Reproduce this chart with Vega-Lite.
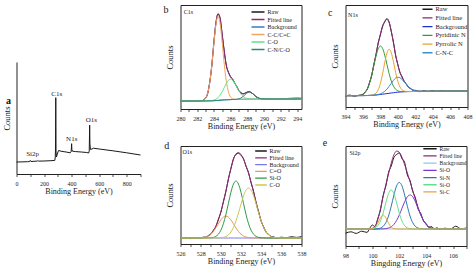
{
"$schema":"https://vega.github.io/schema/vega-lite/v6.json",
"padding":{"left":2.5,"top":4,"right":0,"bottom":0},
"background":"white",
"config":{"font":"Liberation Serif","view":{"stroke":"#222","strokeWidth":1},
 "axis":{"grid":false,"domain":false,"labelFont":"Liberation Serif","titleFont":"Liberation Serif","labelColor":"#222","titleColor":"#222","tickColor":"#222","tickWidth":0.8,"titleFontWeight":"normal","labelOverlap":false,"labelFlush":false},
 "legend":{"labelFont":"Liberation Serif","labelColor":"#222","title":null,"symbolType":"stroke","symbolStrokeWidth":1.3,"padding":0,"labelOffset":2,"orient":"top-right"}},
"datasets":{
"a":[{"x":0,"v":12.0},{"x":40,"v":12.1},{"x":80,"v":12.3},{"x":95,"v":12.4},{"x":100,"v":13.6},{"x":105,"v":12.5},{"x":150,"v":12.9},{"x":155,"v":13.4},{"x":160,"v":12.9},{"x":200,"v":13.0},{"x":250,"v":13.3},{"x":278,"v":13.6},{"x":281,"v":16},{"x":283,"v":24},{"x":285,"v":76.3},{"x":287,"v":22},{"x":290,"v":17},{"x":296,"v":20},{"x":305,"v":23.5},{"x":330,"v":22.6},{"x":360,"v":22.0},{"x":390,"v":21.2},{"x":396,"v":22},{"x":398,"v":25},{"x":400,"v":30.3},{"x":402,"v":24.5},{"x":406,"v":22.8},{"x":430,"v":22.4},{"x":470,"v":22.0},{"x":510,"v":21.5},{"x":524,"v":21.0},{"x":528,"v":23},{"x":531,"v":49},{"x":533,"v":30},{"x":537,"v":24.5},{"x":548,"v":25.0},{"x":558,"v":25.8},{"x":600,"v":25.0},{"x":700,"v":23.2},{"x":800,"v":21.2},{"x":900,"v":19.0}],
"b":[
{"x":280,"Raw":8.0,"Fitted line":8.0,"Background":8.0,"C-C/C=C":8.0,"C-O":8.0,"C-N/C-O":8.0},
{"x":281,"Raw":7.8,"Fitted line":8.0,"Background":8.0,"C-C/C=C":8.0,"C-O":8.0,"C-N/C-O":8.0},
{"x":282,"Raw":8.2,"Fitted line":8.0,"Background":8.0,"C-C/C=C":8.0,"C-O":8.0,"C-N/C-O":8.0},
{"x":282.5,"Raw":8.3,"Fitted line":8.2,"Background":8.0,"C-C/C=C":8.2,"C-O":8.0,"C-N/C-O":8.0},
{"x":283,"Raw":10.9,"Fitted line":10.65,"Background":8.05,"C-C/C=C":10.65,"C-O":8.05,"C-N/C-O":8.05},
{"x":283.25,"Raw":15.2,"Fitted line":15.7,"Background":8.1,"C-C/C=C":15.7,"C-O":8.1,"C-N/C-O":8.1},
{"x":283.5,"Raw":26.8,"Fitted line":26.23,"Background":8.15,"C-C/C=C":26.15,"C-O":8.23,"C-N/C-O":8.15},
{"x":283.75,"Raw":43.0,"Fitted line":43.73,"Background":8.2,"C-C/C=C":43.5,"C-O":8.43,"C-N/C-O":8.2},
{"x":284,"Raw":66.8,"Fitted line":66.09,"Background":8.3,"C-C/C=C":65.5,"C-O":8.89,"C-N/C-O":8.3},
{"x":284.25,"Raw":86.5,"Fitted line":86.1,"Background":8.45,"C-C/C=C":84.75,"C-O":9.8,"C-N/C-O":8.45},
{"x":284.5,"Raw":95.0,"Fitted line":95.4,"Background":8.6,"C-C/C=C":92.6,"C-O":11.4,"C-N/C-O":8.6},
{"x":284.75,"Raw":90.8,"Fitted line":90.2,"Background":8.8,"C-C/C=C":85.1,"C-O":13.9,"C-N/C-O":8.8},
{"x":285,"Raw":74.0,"Fitted line":74.6,"Background":9.0,"C-C/C=C":66.2,"C-O":17.4,"C-N/C-O":9.0},
{"x":285.25,"Raw":57.5,"Fitted line":56.8,"Background":9.1,"C-C/C=C":44.4,"C-O":21.5,"C-N/C-O":9.1},
{"x":285.5,"Raw":43.0,"Fitted line":43.6,"Background":9.2,"C-C/C=C":27.2,"C-O":25.6,"C-N/C-O":9.2},
{"x":285.75,"Raw":36.8,"Fitted line":36.3,"Background":9.3,"C-C/C=C":16.9,"C-O":28.7,"C-N/C-O":9.3},
{"x":286,"Raw":32.0,"Fitted line":32.5,"Background":9.4,"C-C/C=C":12.0,"C-O":29.9,"C-N/C-O":9.4},
{"x":286.25,"Raw":29.9,"Fitted line":29.65,"Background":9.5,"C-C/C=C":10.25,"C-O":28.9,"C-N/C-O":9.51},
{"x":286.5,"Raw":25.6,"Fitted line":26.2,"Background":9.55,"C-C/C=C":9.73,"C-O":25.95,"C-N/C-O":9.59},
{"x":286.75,"Raw":22.6,"Fitted line":22.2,"Background":9.6,"C-C/C=C":9.64,"C-O":22.0,"C-N/C-O":9.77},
{"x":287,"Raw":18.1,"Fitted line":18.6,"Background":9.65,"C-C/C=C":9.65,"C-O":18.05,"C-N/C-O":10.18},
{"x":287.25,"Raw":16.4,"Fitted line":16.1,"Background":9.7,"C-C/C=C":9.7,"C-O":14.8,"C-N/C-O":11.0},
{"x":287.5,"Raw":15.0,"Fitted line":15.35,"Background":9.75,"C-C/C=C":9.75,"C-O":12.55,"C-N/C-O":12.55},
{"x":287.75,"Raw":16.0,"Fitted line":15.75,"Background":9.8,"C-C/C=C":9.8,"C-O":11.15,"C-N/C-O":14.4},
{"x":288,"Raw":17.0,"Fitted line":16.74,"Background":9.85,"C-C/C=C":9.85,"C-O":10.44,"C-N/C-O":16.15},
{"x":288.25,"Raw":17.4,"Fitted line":17.13,"Background":9.9,"C-C/C=C":9.9,"C-O":10.13,"C-N/C-O":16.9},
{"x":288.5,"Raw":16.0,"Fitted line":16.33,"Background":9.95,"C-C/C=C":9.95,"C-O":10.03,"C-N/C-O":16.25},
{"x":288.75,"Raw":14.9,"Fitted line":14.62,"Background":10.0,"C-C/C=C":10.0,"C-O":10.02,"C-N/C-O":14.6},
{"x":289,"Raw":12.5,"Fitted line":12.8,"Background":10.0,"C-C/C=C":10.0,"C-O":10.0,"C-N/C-O":12.8},
{"x":289.25,"Raw":11.5,"Fitted line":11.3,"Background":10.0,"C-C/C=C":10.0,"C-O":10.0,"C-N/C-O":11.3},
{"x":289.5,"Raw":10.2,"Fitted line":10.53,"Background":10.0,"C-C/C=C":10.0,"C-O":10.0,"C-N/C-O":10.53},
{"x":290,"Raw":10.3,"Fitted line":10.04,"Background":10.0,"C-C/C=C":10.0,"C-O":10.0,"C-N/C-O":10.04},
{"x":291,"Raw":9.8,"Fitted line":10.0,"Background":10.0,"C-C/C=C":10.0,"C-O":10.0,"C-N/C-O":10.0},
{"x":292,"Raw":10.1,"Fitted line":10.0,"Background":10.0,"C-C/C=C":10.0,"C-O":10.0,"C-N/C-O":10.0},
{"x":293,"Raw":10.6,"Fitted line":10.0,"Background":10.0,"C-C/C=C":10.0,"C-O":10.0,"C-N/C-O":10.0},
{"x":294,"Raw":10.9,"Fitted line":10.0,"Background":10.0,"C-C/C=C":10.0,"C-O":10.0,"C-N/C-O":10.0},
{"x":294.5,"Raw":10.7,"Fitted line":10.0,"Background":10.0,"C-C/C=C":10.0,"C-O":10.0,"C-N/C-O":10.0}],
"c":[
{"x":394,"Raw":11.0,"Fitted line":11.3,"Background":11.3,"Pyridinic N":11.3,"Pyrrolic N":11.3,"C-N-C":11.3},
{"x":394.5,"Raw":11.9,"Fitted line":11.3,"Background":11.3,"Pyridinic N":11.3,"Pyrrolic N":11.3,"C-N-C":11.3},
{"x":395,"Raw":10.8,"Fitted line":11.3,"Background":11.3,"Pyridinic N":11.3,"Pyrrolic N":11.3,"C-N-C":11.3},
{"x":395.5,"Raw":11.6,"Fitted line":11.54,"Background":11.35,"Pyridinic N":11.54,"Pyrrolic N":11.35,"C-N-C":11.35},
{"x":396,"Raw":12.3,"Fitted line":12.8,"Background":11.4,"Pyridinic N":12.8,"Pyrrolic N":11.4,"C-N-C":11.4},
{"x":396.25,"Raw":15.2,"Fitted line":14.65,"Background":11.45,"Pyridinic N":14.65,"Pyrrolic N":11.45,"C-N-C":11.45},
{"x":396.5,"Raw":17.6,"Fitted line":18.1,"Background":11.5,"Pyridinic N":18.1,"Pyrrolic N":11.5,"C-N-C":11.5},
{"x":396.75,"Raw":24.3,"Fitted line":23.74,"Background":11.6,"Pyridinic N":23.7,"Pyrrolic N":11.64,"C-N-C":11.6},
{"x":397,"Raw":31.2,"Fitted line":31.77,"Background":11.7,"Pyridinic N":31.6,"Pyrrolic N":11.87,"C-N-C":11.7},
{"x":397.25,"Raw":42.5,"Fitted line":41.92,"Background":11.85,"Pyridinic N":41.25,"Pyrrolic N":12.48,"C-N-C":11.89},
{"x":397.5,"Raw":52.2,"Fitted line":52.81,"Background":12.0,"Pyridinic N":50.8,"Pyrrolic N":13.9,"C-N-C":12.11},
{"x":397.75,"Raw":64.0,"Fitted line":63.44,"Background":12.25,"Pyridinic N":58.15,"Pyrrolic N":17.25,"C-N-C":12.54},
{"x":398,"Raw":72.0,"Fitted line":72.66,"Background":12.5,"Pyridinic N":61.0,"Pyrrolic N":23.5,"C-N-C":13.16},
{"x":398.25,"Raw":80.9,"Fitted line":80.2,"Background":12.8,"Pyridinic N":58.7,"Pyrrolic N":32.9,"C-N-C":14.2},
{"x":398.5,"Raw":85.0,"Fitted line":85.6,"Background":13.1,"Pyridinic N":51.9,"Pyrrolic N":44.2,"C-N-C":15.7},
{"x":398.75,"Raw":88.4,"Fitted line":87.5,"Background":13.4,"Pyridinic N":42.8,"Pyrrolic N":53.7,"C-N-C":17.8},
{"x":399,"Raw":85.2,"Fitted line":84.5,"Background":13.7,"Pyridinic N":33.6,"Pyrrolic N":57.7,"C-N-C":20.6},
{"x":399.25,"Raw":75.4,"Fitted line":76.1,"Background":14.0,"Pyridinic N":26.1,"Pyrrolic N":54.3,"C-N-C":23.7},
{"x":399.5,"Raw":64.9,"Fitted line":64.3,"Background":14.3,"Pyridinic N":20.9,"Pyrrolic N":45.4,"C-N-C":26.6},
{"x":399.75,"Raw":51.6,"Fitted line":52.15,"Background":14.55,"Pyridinic N":17.75,"Pyrrolic N":34.65,"C-N-C":28.85},
{"x":400,"Raw":42.8,"Fitted line":42.2,"Background":14.8,"Pyridinic N":16.2,"Pyrrolic N":25.8,"C-N-C":29.8},
{"x":400.25,"Raw":34.3,"Fitted line":34.84,"Background":15.0,"Pyridinic N":15.54,"Pyrrolic N":20.0,"C-N-C":29.3},
{"x":400.5,"Raw":30.1,"Fitted line":29.59,"Background":15.2,"Pyridinic N":15.39,"Pyrrolic N":17.1,"C-N-C":27.5},
{"x":400.75,"Raw":25.2,"Fitted line":25.69,"Background":15.3,"Pyridinic N":15.36,"Pyrrolic N":15.93,"C-N-C":25.0},
{"x":401,"Raw":22.9,"Fitted line":22.47,"Background":15.4,"Pyridinic N":15.4,"Pyrrolic N":15.57,"C-N-C":22.3},
{"x":401.25,"Raw":19.5,"Fitted line":19.89,"Background":15.45,"Pyridinic N":15.45,"Pyrrolic N":15.49,"C-N-C":19.85},
{"x":401.5,"Raw":18.5,"Fitted line":18.1,"Background":15.5,"Pyridinic N":15.5,"Pyrrolic N":15.5,"C-N-C":18.1},
{"x":401.75,"Raw":16.6,"Fitted line":16.95,"Background":15.55,"Pyridinic N":15.55,"Pyrrolic N":15.55,"C-N-C":16.95},
{"x":402,"Raw":16.7,"Fitted line":16.26,"Background":15.6,"Pyridinic N":15.6,"Pyrrolic N":15.6,"C-N-C":16.26},
{"x":402.5,"Raw":15.3,"Fitted line":15.76,"Background":15.65,"Pyridinic N":15.65,"Pyrrolic N":15.65,"C-N-C":15.76},
{"x":403,"Raw":16.2,"Fitted line":15.7,"Background":15.7,"Pyridinic N":15.7,"Pyrrolic N":15.7,"C-N-C":15.7},
{"x":403.5,"Raw":15.4,"Fitted line":15.75,"Background":15.75,"Pyridinic N":15.75,"Pyrrolic N":15.75,"C-N-C":15.75},
{"x":404,"Raw":16.3,"Fitted line":15.8,"Background":15.8,"Pyridinic N":15.8,"Pyrrolic N":15.8,"C-N-C":15.8},
{"x":404.5,"Raw":15.5,"Fitted line":15.85,"Background":15.85,"Pyridinic N":15.85,"Pyrrolic N":15.85,"C-N-C":15.85},
{"x":405,"Raw":16.4,"Fitted line":15.9,"Background":15.9,"Pyridinic N":15.9,"Pyrrolic N":15.9,"C-N-C":15.9},
{"x":405.5,"Raw":15.6,"Fitted line":15.9,"Background":15.9,"Pyridinic N":15.9,"Pyrrolic N":15.9,"C-N-C":15.9},
{"x":406,"Raw":16.2,"Fitted line":15.95,"Background":15.95,"Pyridinic N":15.95,"Pyrrolic N":15.95,"C-N-C":15.95},
{"x":406.5,"Raw":15.7,"Fitted line":15.95,"Background":15.95,"Pyridinic N":15.95,"Pyrrolic N":15.95,"C-N-C":15.95},
{"x":407,"Raw":16.4,"Fitted line":16.0,"Background":16.0,"Pyridinic N":16.0,"Pyrrolic N":16.0,"C-N-C":16.0},
{"x":407.5,"Raw":15.8,"Fitted line":16.0,"Background":16.0,"Pyridinic N":16.0,"Pyrrolic N":16.0,"C-N-C":16.0},
{"x":408,"Raw":16.2,"Fitted line":16.0,"Background":16.0,"Pyridinic N":16.0,"Pyrrolic N":16.0,"C-N-C":16.0}],
"d":[
{"x":526,"Raw":5.5,"Fitted line":6.0,"Background":6.0,"C=O":6.0,"Si-O":6.0,"C-O":6.0},
{"x":526.5,"Raw":6.3,"Fitted line":6.0,"Background":6.0,"C=O":6.0,"Si-O":6.0,"C-O":6.0},
{"x":527,"Raw":5.4,"Fitted line":6.0,"Background":6.0,"C=O":6.0,"Si-O":6.0,"C-O":6.0},
{"x":527.5,"Raw":6.1,"Fitted line":6.0,"Background":6.0,"C=O":6.0,"Si-O":6.0,"C-O":6.0},
{"x":528,"Raw":5.8,"Fitted line":6.17,"Background":6.0,"C=O":6.17,"Si-O":6.0,"C-O":6.0},
{"x":528.25,"Raw":6.9,"Fitted line":6.42,"Background":6.0,"C=O":6.42,"Si-O":6.0,"C-O":6.0},
{"x":528.5,"Raw":6.6,"Fitted line":6.97,"Background":6.0,"C=O":6.97,"Si-O":6.0,"C-O":6.0},
{"x":528.75,"Raw":8.5,"Fitted line":8.07,"Background":6.0,"C=O":8.0,"Si-O":6.07,"C-O":6.0},
{"x":529,"Raw":9.7,"Fitted line":10.02,"Background":6.0,"C=O":9.8,"Si-O":6.22,"C-O":6.0},
{"x":529.25,"Raw":13.6,"Fitted line":13.13,"Background":6.0,"C=O":12.5,"Si-O":6.63,"C-O":6.0},
{"x":529.5,"Raw":17.2,"Fitted line":17.73,"Background":6.0,"C=O":16.1,"Si-O":7.6,"C-O":6.03},
{"x":529.75,"Raw":24.5,"Fitted line":24.0,"Background":6.0,"C=O":20.2,"Si-O":9.7,"C-O":6.1},
{"x":530,"Raw":31.6,"Fitted line":32.07,"Background":6.0,"C=O":24.1,"Si-O":13.7,"C-O":6.27},
{"x":530.25,"Raw":42.3,"Fitted line":41.76,"Background":6.0,"C=O":26.9,"Si-O":20.2,"C-O":6.66},
{"x":530.5,"Raw":52.4,"Fitted line":52.9,"Background":6.0,"C=O":28.0,"Si-O":29.4,"C-O":7.5},
{"x":530.75,"Raw":65.1,"Fitted line":64.6,"Background":6.0,"C=O":26.9,"Si-O":40.6,"C-O":9.1},
{"x":531,"Raw":75.2,"Fitted line":75.8,"Background":6.0,"C=O":24.1,"Si-O":51.7,"C-O":12.0},
{"x":531.25,"Raw":85.2,"Fitted line":84.6,"Background":6.0,"C=O":20.2,"Si-O":59.9,"C-O":16.5},
{"x":531.5,"Raw":89.5,"Fitted line":90.1,"Background":6.0,"C=O":16.1,"Si-O":63.0,"C-O":23.0},
{"x":531.75,"Raw":90.8,"Fitted line":91.4,"Background":6.0,"C=O":12.5,"Si-O":59.9,"C-O":31.0},
{"x":532,"Raw":88.6,"Fitted line":89.4,"Background":6.0,"C=O":9.8,"Si-O":51.7,"C-O":39.9},
{"x":532.25,"Raw":85.3,"Fitted line":84.7,"Background":6.0,"C=O":8.0,"Si-O":40.6,"C-O":48.1},
{"x":532.5,"Raw":77.6,"Fitted line":78.27,"Background":6.0,"C=O":6.97,"Si-O":29.4,"C-O":53.9},
{"x":532.75,"Raw":71.3,"Fitted line":70.62,"Background":6.0,"C=O":6.42,"Si-O":20.2,"C-O":56.0},
{"x":533,"Raw":61.2,"Fitted line":61.77,"Background":6.0,"C=O":6.17,"Si-O":13.7,"C-O":53.9},
{"x":533.25,"Raw":52.5,"Fitted line":51.86,"Background":6.0,"C=O":6.06,"Si-O":9.7,"C-O":48.1},
{"x":533.5,"Raw":41.0,"Fitted line":41.52,"Background":6.0,"C=O":6.02,"Si-O":7.6,"C-O":39.9},
{"x":533.75,"Raw":32.2,"Fitted line":31.63,"Background":6.0,"C=O":6.0,"Si-O":6.63,"C-O":31.0},
{"x":534,"Raw":22.7,"Fitted line":23.22,"Background":6.0,"C=O":6.0,"Si-O":6.22,"C-O":23.0},
{"x":534.25,"Raw":17.0,"Fitted line":16.57,"Background":6.0,"C=O":6.0,"Si-O":6.07,"C-O":16.5},
{"x":534.5,"Raw":11.6,"Fitted line":12.0,"Background":6.0,"C=O":6.0,"Si-O":6.0,"C-O":12.0},
{"x":534.75,"Raw":9.6,"Fitted line":9.1,"Background":6.0,"C=O":6.0,"Si-O":6.0,"C-O":9.1},
{"x":535,"Raw":7.2,"Fitted line":7.5,"Background":6.0,"C=O":6.0,"Si-O":6.0,"C-O":7.5},
{"x":535.25,"Raw":7.1,"Fitted line":6.66,"Background":6.0,"C=O":6.0,"Si-O":6.0,"C-O":6.66},
{"x":535.5,"Raw":6.0,"Fitted line":6.27,"Background":6.0,"C=O":6.0,"Si-O":6.0,"C-O":6.27},
{"x":536,"Raw":6.8,"Fitted line":6.03,"Background":6.0,"C=O":6.0,"Si-O":6.0,"C-O":6.03},
{"x":536.5,"Raw":6.2,"Fitted line":6.0,"Background":6.0,"C=O":6.0,"Si-O":6.0,"C-O":6.0},
{"x":537,"Raw":7.3,"Fitted line":6.0,"Background":6.0,"C=O":6.0,"Si-O":6.0,"C-O":6.0},
{"x":537.5,"Raw":6.6,"Fitted line":6.0,"Background":6.0,"C=O":6.0,"Si-O":6.0,"C-O":6.0},
{"x":538,"Raw":7.4,"Fitted line":6.0,"Background":6.0,"C=O":6.0,"Si-O":6.0,"C-O":6.0}],
"e":[
{"x":98.0,"Raw":12.8,"Fitted line":17,"Background":17,"Si-O":17,"Si-N":17,"Si-O ":17,"Si-C":17},
{"x":98.4,"Raw":14.2,"Fitted line":17,"Background":17,"Si-O":17,"Si-N":17,"Si-O ":17,"Si-C":17},
{"x":98.8,"Raw":12.6,"Fitted line":17,"Background":17,"Si-O":17,"Si-N":17,"Si-O ":17,"Si-C":17},
{"x":99.2,"Raw":14.8,"Fitted line":17,"Background":17,"Si-O":17,"Si-N":17,"Si-O ":17,"Si-C":17},
{"x":99.6,"Raw":13.6,"Fitted line":17,"Background":17,"Si-O":17,"Si-N":17,"Si-O ":17,"Si-C":17},
{"x":99.8,"Raw":17.5,"Fitted line":17.05,"Background":17,"Si-O":17,"Si-N":17,"Si-O ":17,"Si-C":17.05},
{"x":100.0,"Raw":21.0,"Fitted line":17.71,"Background":17,"Si-O":17,"Si-N":17,"Si-O ":17.31,"Si-C":17.4},
{"x":100.2,"Raw":19.2,"Fitted line":20.07,"Background":17,"Si-O":17,"Si-N":17.07,"Si-O ":18.1,"Si-C":18.9},
{"x":100.4,"Raw":27.5,"Fitted line":26.38,"Background":17,"Si-O":17,"Si-N":17.28,"Si-O ":20.3,"Si-C":22.8},
{"x":100.6,"Raw":36.0,"Fitted line":37.17,"Background":17,"Si-O":17.04,"Si-N":17.93,"Si-O ":25.0,"Si-C":28.2},
{"x":100.8,"Raw":50.5,"Fitted line":49.73,"Background":17,"Si-O":17.13,"Si-N":19.6,"Si-O ":33.0,"Si-C":31.0},
{"x":101.0,"Raw":60.0,"Fitted line":61.18,"Background":17,"Si-O":17.38,"Si-N":23.3,"Si-O ":43.3,"Si-C":28.2},
{"x":101.2,"Raw":73.5,"Fitted line":72.07,"Background":17,"Si-O":17.97,"Si-N":30.0,"Si-O ":52.3,"Si-C":22.8},
{"x":101.4,"Raw":80.0,"Fitted line":82.8,"Background":17,"Si-O":19.2,"Si-N":39.7,"Si-O ":56.0,"Si-C":18.9},
{"x":101.6,"Raw":88.5,"Fitted line":91.2,"Background":17,"Si-O":21.6,"Si-N":50.9,"Si-O ":52.3,"Si-C":17.4},
{"x":101.8,"Raw":91.5,"Fitted line":94.95,"Background":17,"Si-O":25.5,"Si-N":60.1,"Si-O ":43.3,"Si-C":17.05},
{"x":102.0,"Raw":93.0,"Fitted line":93.7,"Background":17,"Si-O":31.0,"Si-N":63.7,"Si-O ":33.0,"Si-C":17},
{"x":102.2,"Raw":87.5,"Fitted line":88.7,"Background":17,"Si-O":37.6,"Si-N":60.1,"Si-O ":25.0,"Si-C":17},
{"x":102.4,"Raw":83.5,"Fitted line":81.4,"Background":17,"Si-O":44.2,"Si-N":50.9,"Si-O ":20.3,"Si-C":17},
{"x":102.6,"Raw":71.0,"Fitted line":73.0,"Background":17,"Si-O":49.2,"Si-N":39.7,"Si-O ":18.1,"Si-C":17},
{"x":102.8,"Raw":65.5,"Fitted line":64.31,"Background":17,"Si-O":51.0,"Si-N":30.0,"Si-O ":17.31,"Si-C":17},
{"x":103.0,"Raw":54.5,"Fitted line":55.57,"Background":17,"Si-O":49.2,"Si-N":23.3,"Si-O ":17.07,"Si-C":17},
{"x":103.2,"Raw":48.0,"Fitted line":46.8,"Background":17,"Si-O":44.2,"Si-N":19.6,"Si-O ":17,"Si-C":17},
{"x":103.4,"Raw":37.0,"Fitted line":38.53,"Background":17,"Si-O":37.6,"Si-N":17.93,"Si-O ":17,"Si-C":17},
{"x":103.6,"Raw":32.5,"Fitted line":31.28,"Background":17,"Si-O":31.0,"Si-N":17.28,"Si-O ":17,"Si-C":17},
{"x":103.8,"Raw":25.0,"Fitted line":25.57,"Background":17,"Si-O":25.5,"Si-N":17.07,"Si-O ":17,"Si-C":17},
{"x":104.0,"Raw":22.5,"Fitted line":21.6,"Background":17,"Si-O":21.6,"Si-N":17,"Si-O ":17,"Si-C":17},
{"x":104.2,"Raw":18.5,"Fitted line":19.2,"Background":17,"Si-O":19.2,"Si-N":17,"Si-O ":17,"Si-C":17},
{"x":104.4,"Raw":19.5,"Fitted line":17.97,"Background":17,"Si-O":17.97,"Si-N":17,"Si-O ":17,"Si-C":17},
{"x":104.6,"Raw":17.0,"Fitted line":17.38,"Background":17,"Si-O":17.38,"Si-N":17,"Si-O ":17,"Si-C":17},
{"x":104.8,"Raw":18.2,"Fitted line":17.13,"Background":17,"Si-O":17.13,"Si-N":17,"Si-O ":17,"Si-C":17},
{"x":105.0,"Raw":16.6,"Fitted line":17.04,"Background":17,"Si-O":17.04,"Si-N":17,"Si-O ":17,"Si-C":17},
{"x":105.4,"Raw":17.8,"Fitted line":17,"Background":17,"Si-O":17,"Si-N":17,"Si-O ":17,"Si-C":17},
{"x":105.8,"Raw":16.9,"Fitted line":17,"Background":17,"Si-O":17,"Si-N":17,"Si-O ":17,"Si-C":17},
{"x":106.2,"Raw":19.8,"Fitted line":17,"Background":17,"Si-O":17,"Si-N":17,"Si-O ":17,"Si-C":17},
{"x":106.6,"Raw":17.2,"Fitted line":17,"Background":17,"Si-O":17,"Si-N":17,"Si-O ":17,"Si-C":17},
{"x":107.0,"Raw":18.0,"Fitted line":17,"Background":17,"Si-O":17,"Si-N":17,"Si-O ":17,"Si-C":17}]
},
"spacing":20,
"resolve":{"scale":{"x":"independent","y":"independent","color":"independent"},"axis":{"x":"independent","y":"independent"},"legend":{"color":"independent"}},
"hconcat":[
{"vconcat":[
  {"width":10,"height":57,"view":{"stroke":null},"data":{"values":[]},"mark":"point"},
  {"width":124,"height":112,"view":{"stroke":null},
   "layer":[
    {"data":{"name":"a"},"mark":{"type":"line","strokeWidth":1,"color":"#1a1a1a","interpolate":"linear"},
     "encoding":{"x":{"field":"x","type":"quantitative","scale":{"domain":[0,900],"nice":false,"zero":false},
        "axis":{"title":"Binding Energy (eV)","domain":true,"domainColor":"#222","values":[0,100,200,300,400,500,600,700,800,900],"tickCount":100,"format":"d","labelExpr":"datum.value % 200 == 0 && datum.value < 900 ? datum.label : ''","labelOverlap":false,"tickSize":2.5,"labelPadding":3.5,"labelFontSize":6,"titleFontSize":8,"titlePadding":1}},
      "y":{"field":"v","type":"quantitative","scale":{"domain":[0,112],"nice":false,"zero":false},
        "axis":{"title":"Counts","domain":true,"domainColor":"#222","labels":false,"ticks":false,"titleFontSize":8.5,"titlePadding":5}}}},
    {"data":{"values":[{"x":292,"v":80,"t":"C1s"},{"x":401,"v":34.7,"t":"N1s"},{"x":543,"v":53.7,"t":"O1s"},{"x":117,"v":19.7,"t":"Si2p"}]},
     "mark":{"type":"text","fontSize":7,"font":"Liberation Serif","color":"#222"},
     "encoding":{"x":{"field":"x","type":"quantitative"},"y":{"field":"v","type":"quantitative"},"text":{"field":"t"}}},
    {"data":{"values":[{"x":-58.6,"v":73,"t":"a"}]},
     "mark":{"type":"text","fontSize":10,"fontWeight":"bold","font":"Liberation Serif","color":"#111"},
     "encoding":{"x":{"field":"x","type":"quantitative"},"y":{"field":"v","type":"quantitative"},"text":{"field":"t"}}}
   ]}
 ],"spacing":0},
{"hconcat":[
{"vconcat":[
  {"width":121,"height":104,
   "layer":[
    {"data":{"name":"b"},"transform":[{"fold":["Raw","Fitted line","Background","C-C/C=C","C-O","C-N/C-O"],"as":["s","v"]}],
     "mark":{"type":"line","strokeWidth":1,"interpolate":"monotone"},
     "encoding":{"x":{"field":"x","type":"quantitative","scale":{"domain":[280,294.5],"nice":false,"zero":false},
        "axis":{"title":"Binding Energy (eV)","values":[280,281,282,283,284,285,286,287,288,289,290,291,292,293,294],"tickCount":100,"format":"d","labelExpr":"datum.value % 2 == 0 ? datum.label : ''","labelOverlap":false,"tickSize":2.5,"labelPadding":3.5,"labelFontSize":6,"titleFontSize":8,"titlePadding":1}},
      "y":{"field":"v","type":"quantitative","scale":{"domain":[0,104],"nice":false,"zero":false},
        "axis":{"title":"Counts","labels":false,"ticks":false,"titleFontSize":8.5,"titlePadding":6}},
      "color":{"field":"s","type":"nominal","scale":{"domain":["Raw","Fitted line","Background","C-C/C=C","C-O","C-N/C-O"],"range":["#1a1a1a","#93277a","#2f7fc0","#f0a560","#5ee28c","#2f8a72"]},
        "legend":{"offset":4,"labelFontSize":6,"clipHeight":6,"rowPadding":1.5,"symbolSize":169}}}},
    {"data":{"values":[{"x":280.4,"v":97,"t":"C1s"},{"x":277.97,"v":99,"t":"b"}]},
     "mark":{"type":"text","align":"left","font":"Liberation Serif","color":"#222"},
     "encoding":{"x":{"field":"x","type":"quantitative"},"y":{"field":"v","type":"quantitative"},"text":{"field":"t"},
       "size":{"condition":{"test":"datum.t == 'b'","value":10},"value":6}}}
   ]},
  {"width":121,"height":98,
   "layer":[
    {"data":{"name":"d"},"transform":[{"fold":["Raw","Fitted line","Background","C=O","Si-O","C-O"],"as":["s","v"]}],
     "mark":{"type":"line","strokeWidth":1,"interpolate":"monotone"},
     "encoding":{"x":{"field":"x","type":"quantitative","scale":{"domain":[526,538],"nice":false,"zero":false},
        "axis":{"title":"Binding Energy (eV)","values":[526,527,528,529,530,531,532,533,534,535,536,537,538],"tickCount":100,"format":"d","labelExpr":"datum.value % 2 == 0 ? datum.label : ''","labelOverlap":false,"tickSize":2.5,"labelPadding":3.5,"labelFontSize":6,"titleFontSize":8,"titlePadding":1}},
      "y":{"field":"v","type":"quantitative","scale":{"domain":[0,98],"nice":false,"zero":false},
        "axis":{"title":"Counts","labels":false,"ticks":false,"titleFontSize":8.5,"titlePadding":6}},
      "color":{"field":"s","type":"nominal","scale":{"domain":["Raw","Fitted line","Background","C=O","Si-O","C-O"],"range":["#1a1a1a","#93277a","#7a78e8","#e89a55","#2f9a4a","#c9c955"]},
        "legend":{"offset":2,"labelFontSize":6,"clipHeight":6,"rowPadding":0.8,"symbolSize":135}}}},
    {"data":{"values":[{"x":526.2,"v":92,"t":"O1s"},{"x":524.4,"v":98,"t":"d"}]},
     "mark":{"type":"text","align":"left","font":"Liberation Serif","color":"#222"},
     "encoding":{"x":{"field":"x","type":"quantitative"},"y":{"field":"v","type":"quantitative"},"text":{"field":"t"},
       "size":{"condition":{"test":"datum.t == 'd'","value":10},"value":6}}}
   ]}
 ],"spacing":9,"resolve":{"scale":{"x":"independent","y":"independent","color":"independent"},"axis":{"x":"independent","y":"independent"},"legend":{"color":"independent"}}},
{"vconcat":[
  {"width":122,"height":102,
   "layer":[
    {"data":{"name":"c"},"transform":[{"fold":["Raw","Fitted line","Background","Pyridinic N","Pyrrolic N","C-N-C"],"as":["s","v"]}],
     "mark":{"type":"line","strokeWidth":1,"interpolate":"monotone"},
     "encoding":{"x":{"field":"x","type":"quantitative","scale":{"domain":[394,408],"nice":false,"zero":false},
        "axis":{"title":"Binding Energy (eV)","values":[394,395,396,397,398,399,400,401,402,403,404,405,406,407,408],"tickCount":100,"format":"d","labelExpr":"datum.value % 2 == 0 ? datum.label : ''","labelOverlap":false,"tickSize":2.5,"labelPadding":3.5,"labelFontSize":6,"titleFontSize":8,"titlePadding":1}},
      "y":{"field":"v","type":"quantitative","scale":{"domain":[0,102],"nice":false,"zero":false},
        "axis":{"title":"Counts","labels":false,"ticks":false,"titleFontSize":8.5,"titlePadding":6}},
      "color":{"field":"s","type":"nominal","scale":{"domain":["Raw","Fitted line","Background","Pyridinic N","Pyrrolic N","C-N-C"],"range":["#1a1a1a","#93277a","#1f2fd0","#3a9a3a","#e8a32e","#3a90c8"]},
        "legend":{"offset":0.5,"labelFontSize":6.5,"clipHeight":6.5,"rowPadding":1.7,"symbolSize":100}}}},
    {"data":{"values":[{"x":394.3,"v":91.7,"t":"N1s"},{"x":392.0,"v":94,"t":"c"}]},
     "mark":{"type":"text","align":"left","font":"Liberation Serif","color":"#222"},
     "encoding":{"x":{"field":"x","type":"quantitative"},"y":{"field":"v","type":"quantitative"},"text":{"field":"t"},
       "size":{"condition":{"test":"datum.t == 'c'","value":10},"value":6}}}
   ]},
  {"width":121,"height":100,
   "layer":[
    {"data":{"name":"e"},"transform":[{"fold":["Raw","Fitted line","Background","Si-O","Si-N","Si-O ","Si-C"],"as":["s","v"]}],
     "mark":{"type":"line","strokeWidth":1,"interpolate":"monotone"},
     "encoding":{"x":{"field":"x","type":"quantitative","scale":{"domain":[98,107],"nice":false,"zero":false},
        "axis":{"title":"Bingding Energy (eV)","values":[98,99,100,101,102,103,104,105,106,107],"tickCount":100,"format":"d","labelExpr":"datum.value % 2 == 0 ? datum.label : ''","labelOverlap":false,"tickSize":2.5,"labelPadding":3.5,"labelFontSize":6,"titleFontSize":8,"titlePadding":1}},
      "y":{"field":"v","type":"quantitative","scale":{"domain":[0,100],"nice":false,"zero":false},
        "axis":{"title":"Counts","labels":false,"ticks":false,"titleFontSize":8.5,"titlePadding":6}},
      "color":{"field":"s","type":"nominal","scale":{"domain":["Raw","Fitted line","Background","Si-O","Si-N","Si-O ","Si-C"],"range":["#1a1a1a","#93277a","#8cc8ea","#7a3cc8","#2a78b0","#62e08c","#e8a23e"]},
        "legend":{"offset":0,"labelFontSize":5.5,"clipHeight":5.5,"rowPadding":0.2,"symbolSize":177}}}},
    {"data":{"values":[{"x":98.3,"v":93,"t":"Si2p"},{"x":96.3,"v":103,"t":"e"}]},
     "mark":{"type":"text","align":"left","font":"Liberation Serif","color":"#222"},
     "encoding":{"x":{"field":"x","type":"quantitative"},"y":{"field":"v","type":"quantitative"},"text":{"field":"t"},
       "size":{"condition":{"test":"datum.t == 'e'","value":10},"value":6}}}
   ]}
 ],"spacing":8,"resolve":{"scale":{"x":"independent","y":"independent","color":"independent"},"axis":{"x":"independent","y":"independent"},"legend":{"color":"independent"}}}
],"spacing":15,"resolve":{"scale":{"x":"independent","y":"independent","color":"independent"},"axis":{"x":"independent","y":"independent"},"legend":{"color":"independent"}}}
]
}
